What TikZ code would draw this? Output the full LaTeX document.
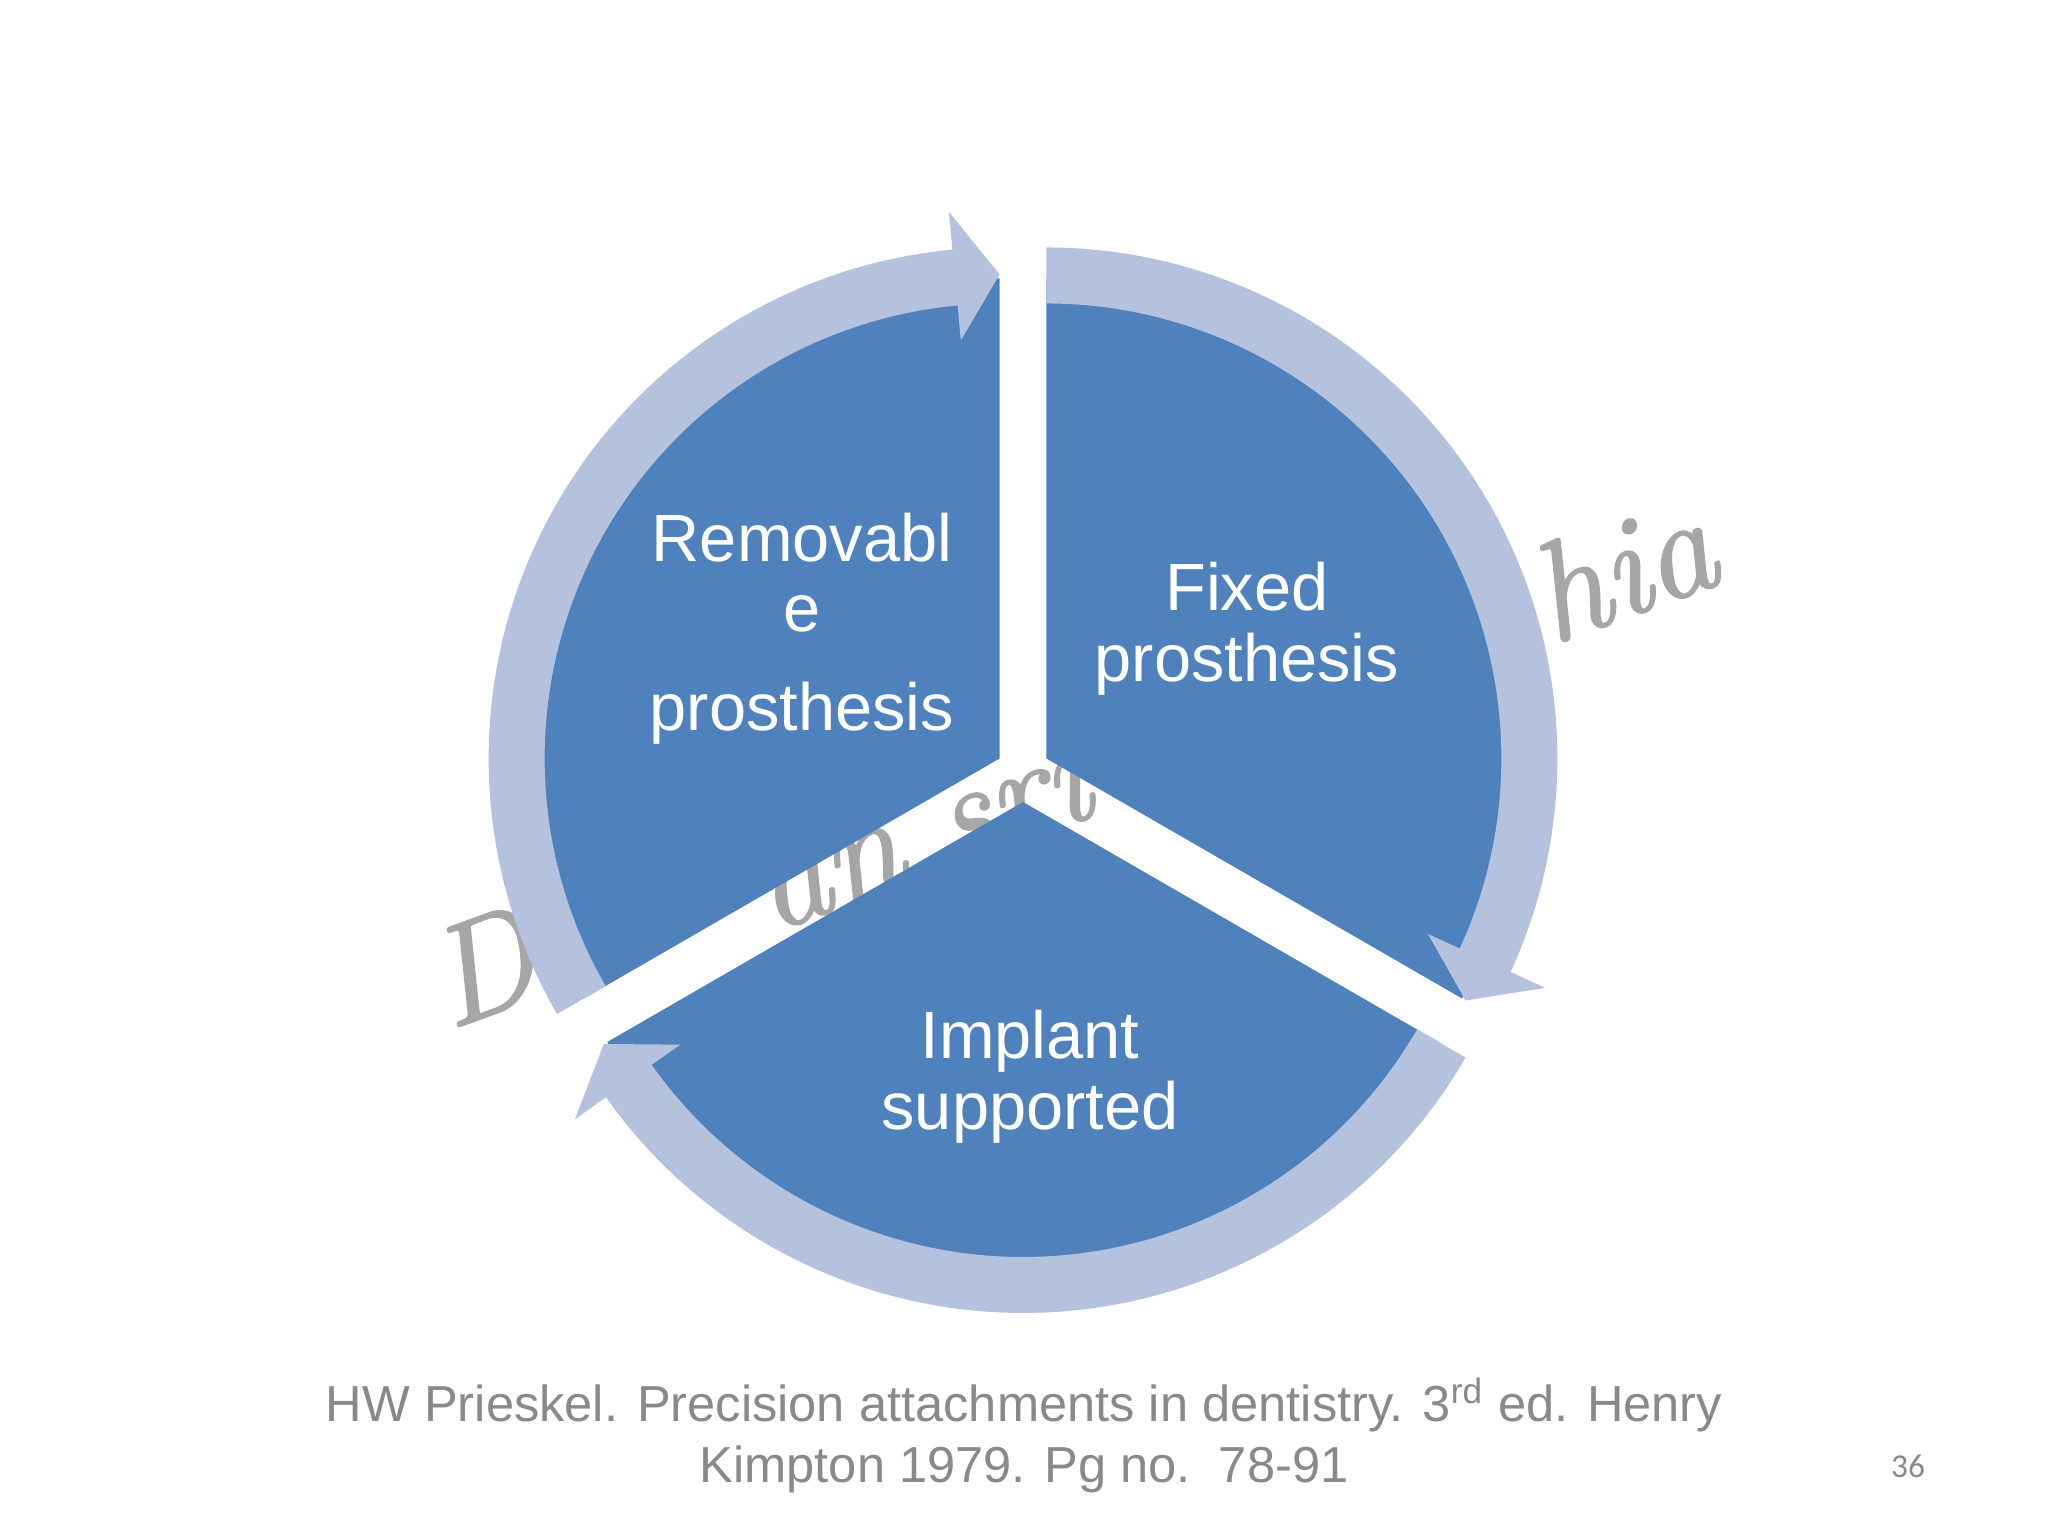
\documentclass[tikz,border=0pt]{standalone}
\usepackage{fontspec}
\setsansfont{Liberation Sans}
\newfontfamily\pagefont{Carlito}
\newfontfamily\wmfont{Latin Modern Roman}[FakeBold=1.6]
\usepackage{tikz}
\usetikzlibrary{arrows,shapes,positioning,calc}
\definecolor{pieblue}{RGB}{79,129,189}
\definecolor{ringblue}{RGB}{180,194,222}
\definecolor{notegray}{RGB}{137,137,137}
\definecolor{wmgray}{RGB}{166,166,166}

\begin{document}
\begin{tikzpicture}[slice/.style={fill=pieblue},
	band/.style={fill=ringblue},
	segtext/.style={text=white,inner sep=0pt,anchor=base,font=\sffamily\fontsize{19}{19}\selectfont},
	wmark/.style={text=wmgray,inner sep=0pt,rotate=20,font=\wmfont\itshape\fontsize{40}{40}\selectfont},
	note/.style={text=notegray,inner sep=0pt,anchor=base,font=\sffamily\fontsize{14.4}{14.4}\selectfont}]

	\useasboundingbox[fill=white] (0,0) rectangle (20.48,15.36);

	% watermark, behind the pie
	\node[wmark] (wm1) at (4.82,5.69) {D};
	\node[wmark] (wm2) at (9.20,7.05) {an.sri};
	\node[wmark] (wm3) at (16.22,9.68) {hia};

	\coordinate (mid) at (10.23,7.64);
	\coordinate (rem) at ($(mid)+(150:0.27)$);
	\coordinate (fix) at ($(mid)+(30:0.27)$);
	\coordinate (imp) at ($(mid)+(270:0.30)$);

	\begin{scope}[shift={(rem)}]
		\fill[slice] (0,0) -- (90:4.80) arc[start angle=90,end angle=210,radius=4.80] -- cycle;
		\fill[band] (210:4.55) arc[start angle=210,end angle=95.3,radius=4.55] -- (95.3:4.20)
			-- (90:4.84) -- (95.3:5.49) -- (95.3:5.11) arc[start angle=95.3,end angle=210,radius=5.11] -- cycle;
	\end{scope}
	\begin{scope}[shift={(fix)}]
		\fill[slice] (0,0) -- (-30:4.80) arc[start angle=-30,end angle=90,radius=4.80] -- cycle;
		\fill[band] (90:4.55) arc[start angle=90,end angle=-24.7,radius=4.55] -- (-24.7:4.20)
			-- (-30:4.84) -- (-24.7:5.49) -- (-24.7:5.11) arc[start angle=-24.7,end angle=90,radius=5.11] -- cycle;
	\end{scope}
	\begin{scope}[shift={(imp)}]
		\fill[slice] (0,0) -- (210:4.80) arc[start angle=210,end angle=330,radius=4.80] -- cycle;
		\fill[band] (330:4.55) arc[start angle=330,end angle=215.3,radius=4.55] -- (215.3:4.20)
			-- (210:4.84) -- (215.3:5.49) -- (215.3:5.11) arc[start angle=215.3,end angle=330,radius=5.11] -- cycle;
	\end{scope}

	\node[segtext] (rem1) at (8.02,9.74) {Removabl};
	\node[segtext] (rem2) at (8.02,9.04) {e};
	\node[segtext] (rem3) at (8.02,8.05) {prosthesis};
	\node[segtext] (fix1) at (12.47,9.25) {Fixed};
	\node[segtext] (fix2) at (12.47,8.54) {prosthesis};
	\node[segtext] (imp1) at (10.30,4.77) {Implant};
	\node[segtext] (imp2) at (10.30,4.06) {supported};

	\node[note] (ref1) at (10.24,1.14) {HW Prieskel. Precision attachments in dentistry. 3\textsuperscript{rd} ed. Henry};
	\node[note] (ref2) at (10.24,0.53) {Kimpton 1979. Pg no.\ \ 78-91};
	\node[text=notegray,font=\pagefont\fontsize{9.5}{9.5}\selectfont] (page) at (19.08,0.70) {36};

\end{tikzpicture}
\end{document}
